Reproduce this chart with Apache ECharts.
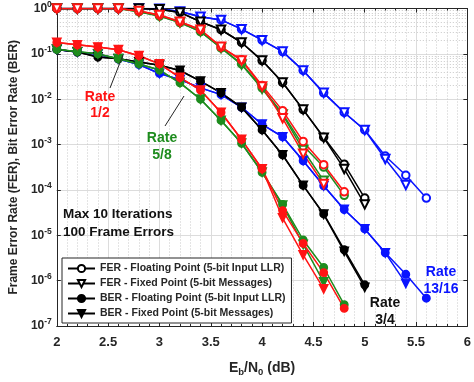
<!DOCTYPE html>
<html><head><meta charset="utf-8">
<script src="https://cdn.jsdelivr.net/npm/echarts@6/dist/echarts.min.js"></script>
<style>html,body{margin:0;padding:0;background:#fff}#c{width:474px;height:382px}</style>
</head><body><div id="c"></div>
<script>
// Eb/N0 (dB)
const dB = [2.0,2.2,2.4,2.6,2.8,3.0,3.2,3.4,3.6,3.8,4.0,4.2,4.4,4.6,4.8,5.0,5.2,5.4,5.6];
const xTicks = [2,2.5,3,3.5,4,4.5,5,5.5,6];
const yTickExps = [0,-1,-2,-3,-4,-5,-6,-7];
// Rate 1/2 (red)
const r12_fer_float = [1,1,1,1,0.88,0.72,0.51,0.34,0.143,0.074,0.02,5.6e-3,1.17e-3,3.6e-4,9.1e-5,null,null,null,null];
const r12_fer_fixed = [1,1,1,1,0.88,0.72,0.51,0.34,0.143,0.071,0.019,3.8e-3,6.3e-4,1.35e-4,null,null,null,null,null];
const r12_ber_float = [0.178,0.158,0.141,0.123,0.091,0.06,0.03,0.0158,5.1e-3,1.29e-3,2.9e-4,3.5e-5,6.6e-6,1.5e-6,2.45e-7,null,null,null,null];
const r12_ber_fixed = [0.178,0.158,0.141,0.123,0.091,0.06,0.03,0.0158,5.1e-3,1.29e-3,2.9e-4,2.4e-5,3.7e-6,6.6e-7,null,null,null,null,null];
// Rate 5/8 (green)
const r58_fer_float = [1,1,1,1,0.85,0.68,0.49,0.31,0.135,0.06,0.0178,4.8e-3,9.5e-4,3.2e-4,7.6e-5,null,null,null,null];
const r58_fer_fixed = [1,1,1,1,0.85,0.68,0.49,0.31,0.135,0.058,0.017,4.6e-3,7.6e-4,1.6e-4,null,null,null,null,null];
const r58_ber_float = [0.126,0.112,0.1,0.078,0.06,0.044,0.023,0.01,3.4e-3,1.07e-3,2.45e-4,4.8e-5,7.9e-6,1.95e-6,2.95e-7,null,null,null,null];
const r58_ber_fixed = [0.126,0.112,0.1,0.078,0.06,0.044,0.023,0.01,3.4e-3,1.07e-3,2.45e-4,4.6e-5,6.3e-6,9.3e-7,null,null,null,null,null];
// Rate 3/4 (black)
const r34_fer_float = [1,1,1,1,1,0.96,0.82,0.51,0.34,0.178,0.071,0.0234,5.9e-3,1.45e-3,3.7e-4,6.6e-5,null,null,null];
const r34_fer_fixed = [1,1,1,1,1,0.96,0.82,0.51,0.34,0.178,0.071,0.0234,5.9e-3,1.42e-3,2.9e-4,4.8e-5,null,null,null];
const r34_ber_float = [0.125,0.11,0.085,0.078,0.066,0.056,0.043,0.025,0.0138,6.6e-3,2.1e-3,5.9e-4,1.26e-4,2.95e-5,4.8e-6,8.1e-7,null,null,null];
const r34_ber_fixed = [0.125,0.11,0.085,0.078,0.066,0.056,0.043,0.025,0.0138,6.6e-3,2.1e-3,5.9e-4,1.26e-4,2.9e-5,4.4e-6,7.1e-7,null,null,null];
// Rate 13/16 (blue)
const r1316_fer_float = [1,1,1,1,1,0.99,0.86,0.66,0.56,0.35,0.2,0.112,0.043,0.0138,5.1e-3,2.1e-3,5.6e-4,2.1e-4,6.6e-5];
const r1316_fer_fixed = [1,1,1,1,1,0.99,0.86,0.66,0.56,0.35,0.2,0.112,0.043,0.0138,5.1e-3,2.1e-3,4.8e-4,1.29e-4,null];
const r1316_ber_float = [0.125,0.11,0.098,0.077,0.058,0.037,0.027,0.0178,0.0126,6.6e-3,2.8e-3,1.48e-3,4.4e-4,1.23e-4,3.7e-5,1.38e-5,4.1e-6,1.38e-6,4.1e-7];
const r1316_ber_fixed = [0.125,0.11,0.098,0.077,0.058,0.037,0.027,0.0178,0.0126,6.6e-3,2.8e-3,1.48e-3,4.4e-4,1.23e-4,3.7e-5,1.38e-5,4.1e-6,8.7e-7,null];

const legendNames = ['FER - Floating Point (5-bit Input LLR)','FER - Fixed Point (5-bit Messages)','BER - Floating Point (5-bit Input LLR)','BER - Fixed Point (5-bit Messages)'];

const FONT = '"Liberation Sans", Arial, Helvetica, sans-serif';
const RED = '#ff1414', GREEN = '#1e8c1e', BLACK = '#000000', BLUE = '#0a14ff';

function pairs(arr){ const out=[]; arr.forEach((v,i)=>{ if(v!==null) out.push([dB[i], v]); }); return out; }
function mk(name, arr, color, kind){
  const sym = {fo:'emptyCircle', fx:'emptyTriangle', bo:'circle', bx:'triangle'}[kind];
  const tri = kind==='fx'||kind==='bx';
  return {
    name: name, type:'line', data: pairs(arr), symbol: sym, symbolSize: tri?8.5:7.5,
    symbolRotate: tri?180:0, showSymbol:true, animation:false,
    lineStyle:{color:color, width:1.5}, itemStyle:{color:color, borderColor:color, borderWidth:1.4},
    emphasis:{disabled:true}
  };
}
const minorY = [];
for (let e=-7; e<0; e++) for (let m=2; m<=9; m++) minorY.push(m*Math.pow(10,e));

const groups = [
  ['13/16', BLUE, [r1316_fer_float, r1316_fer_fixed, r1316_ber_float, r1316_ber_fixed]],
  ['3/4', BLACK, [r34_fer_float, r34_fer_fixed, r34_ber_float, r34_ber_fixed]],
  ['5/8', GREEN, [r58_fer_float, r58_fer_fixed, r58_ber_float, r58_ber_fixed]],
  ['1/2', RED, [r12_fer_float, r12_fer_fixed, r12_ber_float, r12_ber_fixed]]
];
const kinds = ['fo','fx','bo','bx'];
const series = [];
groups.forEach(g=>{ g[2].forEach((arr,k)=>series.push(mk('Rate '+g[0]+' '+kinds[k], arr, g[1], kinds[k]))); });
// minor log grid lines (dotted), placed through the y scale
series[0].markLine = {silent:true, symbol:['none','none'], label:{show:false}, animation:false, z:-1,
    lineStyle:{color:'#c8c8c8', type:[1,2], width:1},
    emphasis:{disabled:true},
    data: minorY.map(v=>({yAxis:v}))};
legendNames.forEach((n,k)=>{ const s = mk(n, [], BLACK, kinds[k]); series.push(s); });

const chart = echarts.init(document.getElementById('c'), null, {renderer:'canvas'});
const axisLineStyle = {color:'#262626', width:1};
chart.setOption({
  backgroundColor:'#fff',
  animation:false,
  textStyle:{fontFamily:FONT},
  grid:{left:49, top:6, width:420.5, height:327, containLabel:false},
  xAxis:[{
    type:'value', min:2, max:6, interval:0.5, position:'bottom',
    axisLine:{show:true, lineStyle:axisLineStyle},
    axisTick:{show:true, inside:true, length:4, lineStyle:{color:'#262626'}},
    minorTick:{show:true, splitNumber:5, length:2, lineStyle:{color:'#262626'}},
    splitLine:{show:true, lineStyle:{color:'#dcdcdc', width:1}},
    minorSplitLine:{show:true, lineStyle:{color:'#c8c8c8', type:[1,2], width:1}},
    axisLabel:{fontFamily:FONT, fontWeight:'bold', fontSize:13, color:'#262626', margin:10,
      formatter: v => (xTicks.indexOf(v)>=0 ? String(v) : '')},
    name:'{n|E}{s|b}{n|/N}{s|0}{n| (dB)}', nameLocation:'middle', nameGap:33,
    nameTextStyle:{rich:{n:{fontFamily:FONT, fontWeight:'bold', fontSize:14, color:'#262626'},
                         s:{fontFamily:FONT, fontWeight:'bold', fontSize:9.5, color:'#262626', padding:[8,0,0,0]}}}
  },{
    type:'value', min:2, max:6, interval:0.5, position:'top',
    axisLine:{show:true, lineStyle:axisLineStyle},
    axisTick:{show:true, inside:true, length:4, lineStyle:{color:'#262626'}},
    minorTick:{show:true, splitNumber:5, length:2, lineStyle:{color:'#262626'}},
    splitLine:{show:false}, axisLabel:{show:false}
  }],
  yAxis:[{
    type:'log', logBase:10, min:1e-7, max:1, splitNumber:7, position:'left',
    axisLine:{show:true, lineStyle:axisLineStyle},
    axisTick:{show:true, inside:true, length:4, lineStyle:{color:'#262626'}},
    splitLine:{show:true, lineStyle:{color:'#dcdcdc', width:1}},
    axisLabel:{margin:5, formatter: v => { const e = Math.round(Math.log10(v)); return yTickExps.indexOf(e)>=0 ? '{b|10}{s|'+e+'}' : ''; },
      rich:{b:{fontFamily:FONT, fontWeight:'bold', fontSize:12, color:'#262626'},
            s:{fontFamily:FONT, fontWeight:'bold', fontSize:8.5, color:'#262626', padding:[0,0,8,0]}}},
    name:'Frame Error Rate (FER), Bit Error Rate (BER)', nameLocation:'middle', nameGap:34,
    nameTextStyle:{fontFamily:FONT, fontWeight:'bold', fontSize:12, color:'#262626'}
  },{
    type:'log', logBase:10, min:1e-7, max:1, splitNumber:7, position:'right',
    axisLine:{show:true, lineStyle:axisLineStyle},
    axisTick:{show:true, inside:true, length:4, lineStyle:{color:'#262626'}},
    splitLine:{show:false}, axisLabel:{show:false}
  }],
  legend:{
    data: legendNames, orient:'vertical', left:62, top:258,
    backgroundColor:'#fff', borderColor:'#262626', borderWidth:1, borderRadius:0,
    padding:[4,6,3,5], itemGap:2, itemWidth:27, itemHeight:9, selectedMode:false,
    textStyle:{fontFamily:FONT, fontWeight:'bold', fontSize:10.5, color:'#262626', lineHeight:13}
  },
  graphic:[
    {type:'line', shape:{x1:110,y1:88,x2:123,y2:55}, style:{stroke:'#262626', lineWidth:1}, z:100},
    {type:'line', shape:{x1:165,y1:126,x2:184,y2:96}, style:{stroke:'#262626', lineWidth:1}, z:100},
    {type:'text', x:100, y:89, style:{text:'Rate\n1/2', fill:RED, font:'bold 14px '+FONT, textAlign:'center', lineHeight:16}, z:100},
    {type:'text', x:162, y:130, style:{text:'Rate\n5/8', fill:GREEN, font:'bold 14px '+FONT, textAlign:'center', lineHeight:17}, z:100},
    {type:'text', x:385, y:295, style:{text:'Rate\n3/4', fill:'#111', font:'bold 14px '+FONT, textAlign:'center', lineHeight:17}, z:100},
    {type:'text', x:441, y:264, style:{text:'Rate\n13/16', fill:BLUE, font:'bold 14px '+FONT, textAlign:'center', lineHeight:17}, z:100},
    {type:'text', x:63, y:205, style:{text:'Max 10 Iterations\n100 Frame Errors', fill:'#111', font:'bold 13.5px '+FONT, textAlign:'left', lineHeight:18}, z:100}
  ],
  series: series
});
</script></body></html>
